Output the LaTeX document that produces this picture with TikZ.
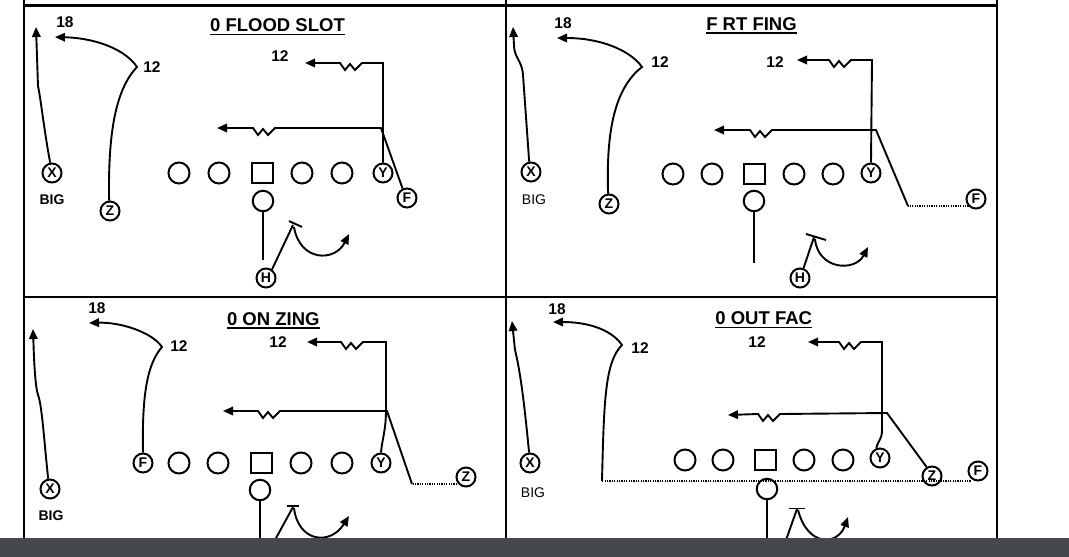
\documentclass[tikz,border=0pt]{standalone}
\usepackage{fontspec}
\setmainfont{Liberation Sans}
\usetikzlibrary{arrows.meta}
\definecolor{barc}{RGB}{69,73,77}
\begin{document}
\begin{tikzpicture}[x=1pt,y=-1pt,
  frame/.style={line width=2.2pt},
  pl/.style={circle,draw,line width=2pt,minimum size=19pt,inner sep=0pt,font=\fontsize{14}{14}\selectfont\bfseries},
  ol/.style={circle,draw,line width=2pt,minimum size=21pt,inner sep=0pt},
  ctr/.style={rectangle,draw,line width=2pt,minimum width=21pt,minimum height=19.5pt,inner sep=0pt},
  qb/.style={circle,draw,line width=2pt,minimum size=20.5pt,inner sep=0pt},
  rt/.style={line width=1.9pt},
  arr/.style={rt,-{Triangle[length=10pt,width=8.5pt]}},
  mot/.style={line width=1.5pt,dash pattern=on 1.2pt off 1.2pt},
  zig/.style={to path={-- ++(-7,7) -- ++(-5,-6) -- ++(-5,6) -- ++(-5,-7) -- (\tikztotarget)}},
  ttl/.style={inner sep=0pt,font=\fontsize{18.5}{20}\selectfont\bfseries},
  num/.style={inner sep=0pt,font=\fontsize{15.5}{16}\selectfont\bfseries},
  bigb/.style={inner sep=0pt,font=\fontsize{14}{14}\selectfont\bfseries},
  bigr/.style={inner sep=0pt,font=\fontsize{14}{14}\selectfont},
  uline/.style={line width=1.7pt},
  tbar/.style={line width=1.9pt}
]
\useasboundingbox (0,0) rectangle (1069,557);
\fill[white] (0,0) rectangle (1069,557);
% frames
\draw[frame] (24,0) -- (24,538) (506,0) -- (506,538) (997,0) -- (997,538)
  (24,5.5) -- (997,5.5) (24,297) -- (997,297);

% ===== Panel 1 =====
\node[ttl] (T1) at (277.5,25.5) {0 FLOOD SLOT};
\draw[uline] ([yshift=-2.2pt]T1.south west) -- ([yshift=-2.2pt]T1.south east);
\node[num] (n1a) at (65,22) {18};
\node[num] (n1b) at (152,67) {12};
\node[num] (n1c) at (280,56) {12};
\node[pl] (X1) at (52,173) {X};
\node[bigb] (B1) at (52,200) {BIG};
\node[pl] (Z1) at (110,211) {Z};
\node[ol] (L1a) at (179,173) {};
\node[ol] (L1b) at (219,173) {};
\node[ctr] (C1) at (262,173) {};
\node[ol] (L1c) at (302,173) {};
\node[ol] (L1d) at (342,173) {};
\node[pl] (Y1) at (383,173) {Y};
\node[qb] (Q1) at (263,201) {};
\node[pl] (F1) at (407,198) {F};
\node[pl] (H1) at (266,278) {H};
\coordinate (x1t) at (36,27);
\coordinate (z1c) at (137,67);
\coordinate (z1t) at (55,37);
\coordinate (y1c) at (383,63);
\coordinate (y1t) at (305,63);
\coordinate (f1c) at (381,128);
\coordinate (f1t) at (217,128);
\coordinate (q1e) at (263,260);
\coordinate (h1c) at (293,225);
\coordinate (h1t) at (349,234);
\draw[arr] (X1.100) .. controls (44,130) and (41,100) .. (38,86) -- (x1t);
\draw[arr] (Z1.95) .. controls (108,135) and (115,90) .. (z1c) .. controls (125,49) and (95,38) .. (z1t);
\draw[arr] (Y1.north) -- (y1c) -- (362,63) to[zig] (y1t);
\draw[arr] (F1.115) -- (f1c) -- (275,128) to[zig] (f1t);
\draw[rt] (Q1.south) -- (q1e);
\draw[rt] (H1.55) -- (h1c);
\draw[tbar] (289,221) -- (302,227);
\draw[arr] (294,227) .. controls (300,262) and (335,262) .. (h1t);

% ===== Panel 2 =====
\node[ttl] (T2) at (751.5,24) {F RT FING};
\draw[uline] ([yshift=-2.2pt]T2.south west) -- ([yshift=-2.2pt]T2.south east);
\node[num] (n2a) at (563,23) {18};
\node[num] (n2b) at (660,62) {12};
\node[num] (n2c) at (775,62) {12};
\node[pl] (X2) at (531,172) {X};
\node[bigr] (B2) at (534,200) {BIG};
\node[pl] (Z2) at (609,204) {Z};
\node[ol] (L2a) at (673,174) {};
\node[ol] (L2b) at (712,174) {};
\node[ctr] (C2) at (754,174) {};
\node[ol] (L2c) at (794,174) {};
\node[ol] (L2d) at (833,174) {};
\node[pl] (Y2) at (871,173) {Y};
\node[qb] (Q2) at (754,201) {};
\node[pl] (H2) at (800,278) {H};
\node[pl] (F2) at (976,199) {F};
\coordinate (x2t) at (513,27);
\coordinate (z2c) at (642,67);
\coordinate (z2t) at (557,38);
\coordinate (y2c) at (872,60);
\coordinate (y2t) at (797,60);
\coordinate (f2m) at (908,206);
\coordinate (f2c) at (876,130);
\coordinate (f2t) at (714,130);
\coordinate (q2e) at (754,263);
\coordinate (h2c) at (814,237);
\coordinate (h2t) at (868,247);
\draw[arr] (X2.100) -- (523,75) .. controls (522,60) and (514,58) .. (514,45) -- (x2t);
\draw[arr] (Z2.95) .. controls (606,130) and (615,88) .. (z2c) .. controls (630,50) and (600,38) .. (z2t);
\draw[arr] (Y2.north) -- (y2c) -- (851,60) to[zig] (y2t);
\draw[mot] (f2m -| F2.south west) -- (f2m);
\draw[arr] (f2m) -- (f2c) -- (772,130) to[zig] (f2t);
\draw[rt] (Q2.south) -- (q2e);
\draw[rt] (H2.70) -- (h2c);
\draw[tbar] (806,234) -- (826,240);
\draw[arr] (815,239) .. controls (818,270) and (855,272) .. (h2t);

% ===== Panel 3 =====
\node[ttl] (T3) at (273.3,319) {0 ON ZING};
\draw[uline] ([yshift=-2.2pt]T3.south west) -- ([yshift=-2.2pt]T3.south east);
\node[num] (n3a) at (97,308) {18};
\node[num] (n3b) at (179,346) {12};
\node[num] (n3c) at (278,342) {12};
\node[pl] (X3) at (50,489) {X};
\node[bigb] (B3) at (51,516) {BIG};
\node[pl] (F3) at (143,463) {F};
\node[ol] (L3a) at (179,463) {};
\node[ol] (L3b) at (218,463) {};
\node[ctr] (C3) at (261,463) {};
\node[ol] (L3c) at (301,463) {};
\node[ol] (L3d) at (342,463) {};
\node[pl] (Y3) at (381,463) {Y};
\node[qb] (Q3) at (260,490) {};
\node[pl] (Z3) at (466,477) {Z};
\coordinate (x3t) at (33,329);
\coordinate (f3c) at (162,347);
\coordinate (f3t) at (89,323);
\coordinate (y3c) at (386,342);
\coordinate (y3t) at (307,342);
\coordinate (z3m) at (412,484);
\coordinate (z3c) at (387,411);
\coordinate (z3t) at (223,411);
\coordinate (q3e) at (260,540);
\coordinate (h3s) at (275,540);
\coordinate (h3c) at (293,507);
\coordinate (h3t) at (349,516);
\draw[arr] (X3.100) .. controls (44,440) and (42,405) .. (38,395) .. controls (35,385) and (34,360) .. (x3t);
\draw[arr] (F3.north) .. controls (142,400) and (146,365) .. (f3c) .. controls (152,332) and (120,322) .. (f3t);
\draw[arr] (Y3.north) .. controls (382,440) and (386,430) .. (386,410) -- (y3c) -- (363,342) to[zig] (y3t);
\draw[mot] (z3m -| Z3.210) -- (z3m);
\draw[arr] (z3m) -- (z3c) -- (280,411) to[zig] (z3t);
\draw[rt] (Q3.south) -- (q3e);
\draw[rt] (h3s) -- (h3c);
\draw[tbar] (287,506) -- (299,506);
\draw[arr] (294,508) .. controls (298,542) and (330,546) .. (h3t);

% ===== Panel 4 =====
\node[ttl] (T4) at (763.7,318.5) {0 OUT FAC};
\draw[uline] ([yshift=-2.2pt]T4.south west) -- ([yshift=-2.2pt]T4.south east);
\node[num] (n4a) at (557,309) {18};
\node[num] (n4b) at (640,348) {12};
\node[num] (n4c) at (757,342) {12};
\node[pl] (X4) at (530,463) {X};
\node[bigr] (B4) at (533,493) {BIG};
\node[ol] (L4a) at (685,460) {};
\node[ol] (L4b) at (723,460) {};
\node[ctr] (C4) at (765,460) {};
\node[ol] (L4c) at (804,460) {};
\node[ol] (L4d) at (843,460) {};
\node[pl] (Y4) at (880,458) {Y};
\node[qb] (Q4) at (767,489) {};
\node[pl] (Z4) at (932,476) {Z};
\node[pl] (F4) at (978,471) {F};
\coordinate (x4t) at (512,321);
\coordinate (m4) at (602,481);
\coordinate (m4c) at (622,345);
\coordinate (m4t) at (553,322);
\coordinate (y4c) at (882,342);
\coordinate (y4t) at (808,342);
\coordinate (z4c) at (887,413);
\coordinate (z4t) at (728,415);
\coordinate (q4e) at (767,540);
\coordinate (h4s) at (786,540);
\coordinate (h4c) at (797,509);
\coordinate (h4t) at (848,517);
\draw[arr] (X4.95) .. controls (524,400) and (520,370) .. (515,350) -- (x4t);
\draw[mot] (m4 -| F4.south west) -- (m4);
\draw[arr] (m4) .. controls (604,400) and (605,362) .. (m4c) .. controls (610,328) and (585,322) .. (m4t);
\draw[arr] (Y4.110) .. controls (878,440) and (882,440) .. (882,430) -- (y4c) -- (861,342) to[zig] (y4t);
\draw[arr] (Z4.121) -- (z4c) -- (780,414) to[zig] (z4t);
\draw[rt] (Q4.south) -- (q4e);
\draw[rt] (h4s) -- (h4c);
\draw[tbar] (789,508.5) -- (805,508.5);
\draw[arr] (798,510) .. controls (808,548) and (838,545) .. (h4t);

% bottom bar
\fill[barc] (0,538) rectangle (1069,557);
\end{tikzpicture}
\end{document}
